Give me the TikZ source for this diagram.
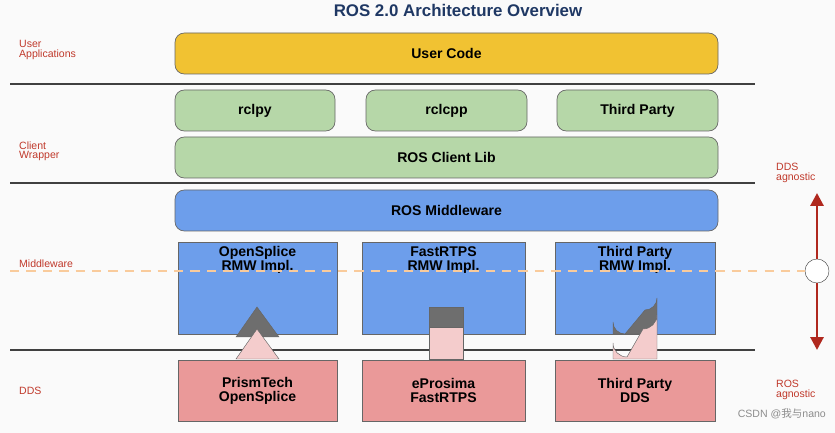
\documentclass[tikz,border=0pt]{standalone}
\usepackage{fontspec}
\setmainfont{Liberation Sans}
\newfontfamily\cjk{Noto Sans CJK SC}
\usetikzlibrary{arrows.meta}
\definecolor{rosblue}{HTML}{1F3864}
\definecolor{labred}{HTML}{C0392B}
\definecolor{usery}{HTML}{F1C232}
\definecolor{clig}{HTML}{B6D7A8}
\definecolor{mwb}{HTML}{6D9EEB}
\definecolor{ddsr}{HTML}{EA9999}
\definecolor{plugp}{HTML}{F4CCCC}
\definecolor{plugd}{HTML}{6E6E6E}
\definecolor{dashor}{HTML}{F9CB9C}
\definecolor{arrred}{HTML}{B0281E}
\begin{document}
\begin{tikzpicture}[x=0.03cm, y=-0.03cm,
                    layer/.style = {draw = black!60, line width = 0.6pt, font = \bfseries\large, align = center},
                    rbox/.style = {layer, rounded corners = 8pt},
                    side/.style = {text = labred, font = \small, align = left, anchor = west},
                    sep/.style = {draw = black!75, line width = 2.2pt}]
      \useasboundingbox[fill = black!2] (0, 0) rectangle (835, 433);
      \node [font = \bfseries\Large, text = rosblue] (title) at (458, 10) {ROS 2.0 Architecture Overview};
      % user layer
      \node [rbox, fill = usery, minimum width = 543*0.03cm, minimum height = 41*0.03cm] (user) at (446.5, 53.5) {User Code};
      \draw [sep] (10, 84) coordinate (s1a) -- (755, 84) coordinate (s1b);
      % client layer
      \node [rbox, fill = clig, minimum width = 160*0.03cm, minimum height = 41*0.03cm] (rclpy) at (255, 110.5) {rclpy};
      \node [rbox, fill = clig, minimum width = 161*0.03cm, minimum height = 41*0.03cm] (rclcpp) at (446.5, 110.5) {rclcpp};
      \node [rbox, fill = clig, minimum width = 161*0.03cm, minimum height = 41*0.03cm] (thirdc) at (637.5, 110.5) {Third Party};
      \node [rbox, fill = clig, minimum width = 543*0.03cm, minimum height = 41*0.03cm] (clib) at (446.5, 157.5) {ROS Client Lib};
      \draw [sep] (10, 183) coordinate (s2a) -- (755, 183) coordinate (s2b);
      % middleware layer
      \node [rbox, fill = mwb, minimum width = 543*0.03cm, minimum height = 41*0.03cm] (rmw) at (446.5, 210.5) {ROS Middleware};
      \node [layer, fill = mwb, minimum width = 159*0.03cm, minimum height = 92*0.03cm, text depth = 50pt] (osimpl) at (257.5, 288) {OpenSplice\\[-2pt]RMW Impl.};
      \node [layer, fill = mwb, minimum width = 163*0.03cm, minimum height = 92*0.03cm, text depth = 50pt] (frimpl) at (443.5, 288) {FastRTPS\\[-2pt]RMW Impl.};
      \node [layer, fill = mwb, minimum width = 160*0.03cm, minimum height = 92*0.03cm, text depth = 50pt] (tpimpl) at (635, 288) {Third Party\\[-2pt]RMW Impl.};
      \draw [sep] (10, 350) coordinate (s3a) -- (755, 350) coordinate (s3b);
      % dds layer
      \node [layer, fill = ddsr, minimum width = 159*0.03cm, minimum height = 61*0.03cm] (osdds) at (257.5, 390.5) {PrismTech\\[-2pt]OpenSplice};
      \node [layer, fill = ddsr, minimum width = 163*0.03cm, minimum height = 61*0.03cm] (frdds) at (443.5, 390.5) {eProsima\\[-2pt]FastRTPS};
      \node [layer, fill = ddsr, minimum width = 160*0.03cm, minimum height = 61*0.03cm] (tpdds) at (635, 390.5) {Third Party\\[-2pt]DDS};
      % plugs
      \draw [draw = black!60, fill = plugd] (257, 307) -- (279, 337) -- (236, 337) -- cycle;
      \draw [draw = black!60, fill = plugp] (257, 329) -- (279, 359) -- (236, 359) -- cycle;
      \draw [draw = black!60, fill = plugd] (429, 307) rectangle (463, 327);
      \draw [draw = black!60, fill = plugp] (429, 327) rectangle (463, 359);
      \draw [draw = black!60, fill = plugd] (613, 334) -- (613, 322) arc (180:90:12) -- (645, 310) arc (90:0:12) -- (657, 334) -- cycle;
      \draw [draw = black!60, fill = plugp] (613, 359) -- (613, 343) arc (180:90:14) -- (643, 329) arc (90:0:14) -- (657, 359) -- cycle;
      % agnostic line
      \node [circle, draw = black!70, fill = white, minimum size = 24*0.03cm, inner sep = 0pt] (mid) at (817, 271) {};
      \draw [dashor, line width = 2.5pt, dash pattern = on 8pt off 6pt] (10, 271) coordinate (d0) -- (mid.west);
      \coordinate (top) at (817, 193);
      \coordinate (bot) at (817, 350);
      \draw [arrred, line width = 2.5pt, -{Triangle[length = 11pt, width = 11pt]}] (mid.north) -- (top);
      \draw [arrred, line width = 2.5pt, -{Triangle[length = 11pt, width = 11pt]}] (mid.south) -- (bot);
      % side labels
      \node [side] (ua) at (15, 50) {User\\[-3pt]Applications};
      \node [side] (cw) at (15, 151) {Client\\[-3pt]Wrapper};
      \node [side] (mw) at (15, 264) {Middleware};
      \node [side] (dd) at (15, 391) {DDS};
      \node [side] (da) at (772, 173) {DDS\\[-3pt]agnostic};
      \node [side] (ra) at (772, 390) {ROS\\[-3pt]agnostic};
      \node [anchor = east, text = black!45, font = \small] (wm) at (830, 414) {CSDN @{\cjk 我与}nano};
    \end{tikzpicture}
\end{document}
